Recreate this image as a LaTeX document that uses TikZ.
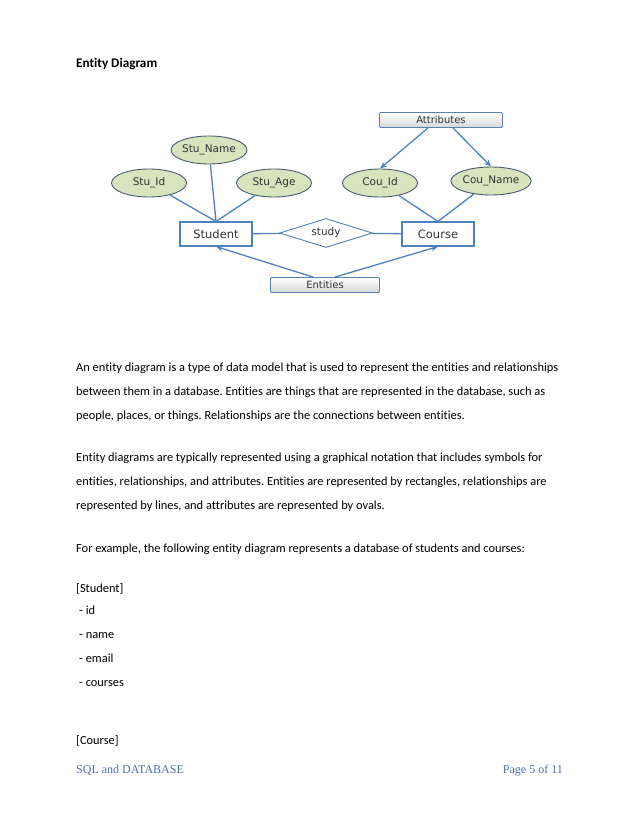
\documentclass[tikz,border=0pt]{standalone}
\usepackage{fontspec}
\setmainfont[Ligatures={NoCommon}]{Carlito}
\newfontfamily\diagfont{DejaVu Sans}
\newfontfamily\footfont{Liberation Serif}
\usetikzlibrary{shapes.geometric,arrows.meta}

\definecolor{linkblue}{HTML}{4F81BD}
\definecolor{attrgreen}{HTML}{D7E4BD}
\definecolor{attrline}{HTML}{4A5A70}
\definecolor{notegray}{HTML}{EEEEF0}
\definecolor{diagtext}{HTML}{333333}
\definecolor{footblue}{HTML}{4F6EB5}

\tikzset{
    attr/.style={ellipse, draw=attrline, fill=attrgreen, line width=0.9pt, minimum width=75pt,
        minimum height=28pt, inner sep=0pt, text=diagtext, font=\diagfont\fontsize{10.5}{11}\selectfont},
    entity/.style={rectangle, draw=linkblue, fill=white, line width=1.1pt, minimum width=72pt,
        minimum height=24pt, inner sep=0pt, text=diagtext, font=\diagfont\fontsize{11.5}{12}\selectfont},
    relation/.style={diamond, aspect=3.2, draw=linkblue, fill=white, line width=0.9pt, minimum width=93pt,
        minimum height=29pt, inner sep=0pt, text=diagtext, font=\diagfont\fontsize{10.5}{11}\selectfont},
    tag/.style={rectangle, rounded corners=1pt, draw=linkblue!80!gray, line width=0.9pt, top color=white,
        bottom color=notegray!80!gray, minimum height=15pt, inner sep=0pt, text=diagtext,
        font=\diagfont\fontsize{10}{11}\selectfont},
    link/.style={linkblue, line width=1.3pt},
    pointer/.style={linkblue, line width=1.3pt, -{Stealth[length=7pt,width=6pt]}},
    bodyline/.style={anchor=base west, inner sep=0pt, font=\fontsize{12.4}{14}\selectfont}
}

\begin{document}
\frenchspacing
\begin{tikzpicture}[x=1pt, y=-1pt]
\useasboundingbox (0,0) rectangle (638,826);

% title
    \node[anchor=base west, inner sep=0pt, font=\bfseries\fontsize{13.2}{14}\selectfont]
        (title) at (76,68) {Entity Diagram};

% attributes
    \node[attr] (stuname) at (209,150) {Stu\_Name};
    \node[attr] (stuid) at (149,183) {Stu\_Id};
    \node[attr] (stuage) at (274,183) {Stu\_Age};
    \node[attr] (couid) at (380,183) {Cou\_Id};
    \node[attr] (couname) at (491,181) {Cou\_Name};

% entities and relation
    \node[entity] (student) at (216,234) {Student};
    \node[relation] (study) at (326,233) {study};
    \node[entity] (course) at (438,234) {Course};

% labels
    \node[tag, minimum width=123pt] (attributes) at (441,120) {Attributes};
    \node[tag, minimum width=109pt] (entities) at (325,285) {Entities};

% connectors
    \draw[link] (stuid) -- (student.north);
    \draw[link] (stuname) -- (student.north);
    \draw[link] (stuage) -- (student.north);
    \draw[link] (couid) -- (course.north);
    \draw[link] (couname) -- (course.north);
    \draw[link] (student) -- (study);
    \draw[link] (study) -- (course);

% pointers
    \draw[pointer] ([xshift=-13pt]attributes.south) -- (couid.north);
    \draw[pointer] ([xshift=12pt]attributes.south) -- (couname.north);
    \draw[pointer] ([xshift=-12pt]entities.north) -- (student.south);
    \draw[pointer] ([xshift=10pt]entities.north) -- (course.south);

% text
    \node[bodyline] (p1) at (76,371) {An entity diagram is a type of data model that is used to represent the entities and relationships};
    \node[bodyline] (p2) at (76,395) {between them in a database. Entities are things that are represented in the database, such as};
    \node[bodyline] (p3) at (76,419) {people, places, or things. Relationships are the connections between entities.};
    \node[bodyline] (p4) at (76,461) {Entity diagrams are typically represented using a graphical notation that includes symbols for};
    \node[bodyline] (p5) at (76,485) {entities, relationships, and attributes. Entities are represented by rectangles, relationships are};
    \node[bodyline] (p6) at (76,509) {represented by lines, and attributes are represented by ovals.};
    \node[bodyline] (p7) at (76,552) {For example, the following entity diagram represents a database of students and courses:};
    \node[bodyline] (p8) at (76,592) {[Student]};
    \node[bodyline] (p9) at (79,614) {- id};
    \node[bodyline] (p10) at (79,638) {- name};
    \node[bodyline] (p11) at (79,662) {- email};
    \node[bodyline] (p12) at (79,686) {- courses};
    \node[bodyline] (p13) at (76,744) {[Course]};

% footer
    \node[anchor=base west, inner sep=0pt, text=footblue, font=\footfont\fontsize{12}{14}\selectfont]
        (footleft) at (76,773) {SQL and DATABASE};
    \node[anchor=base east, inner sep=0pt, text=footblue, font=\footfont\fontsize{12}{14}\selectfont]
        (footright) at (563,773) {Page 5 of 11};
\end{tikzpicture}
\end{document}
